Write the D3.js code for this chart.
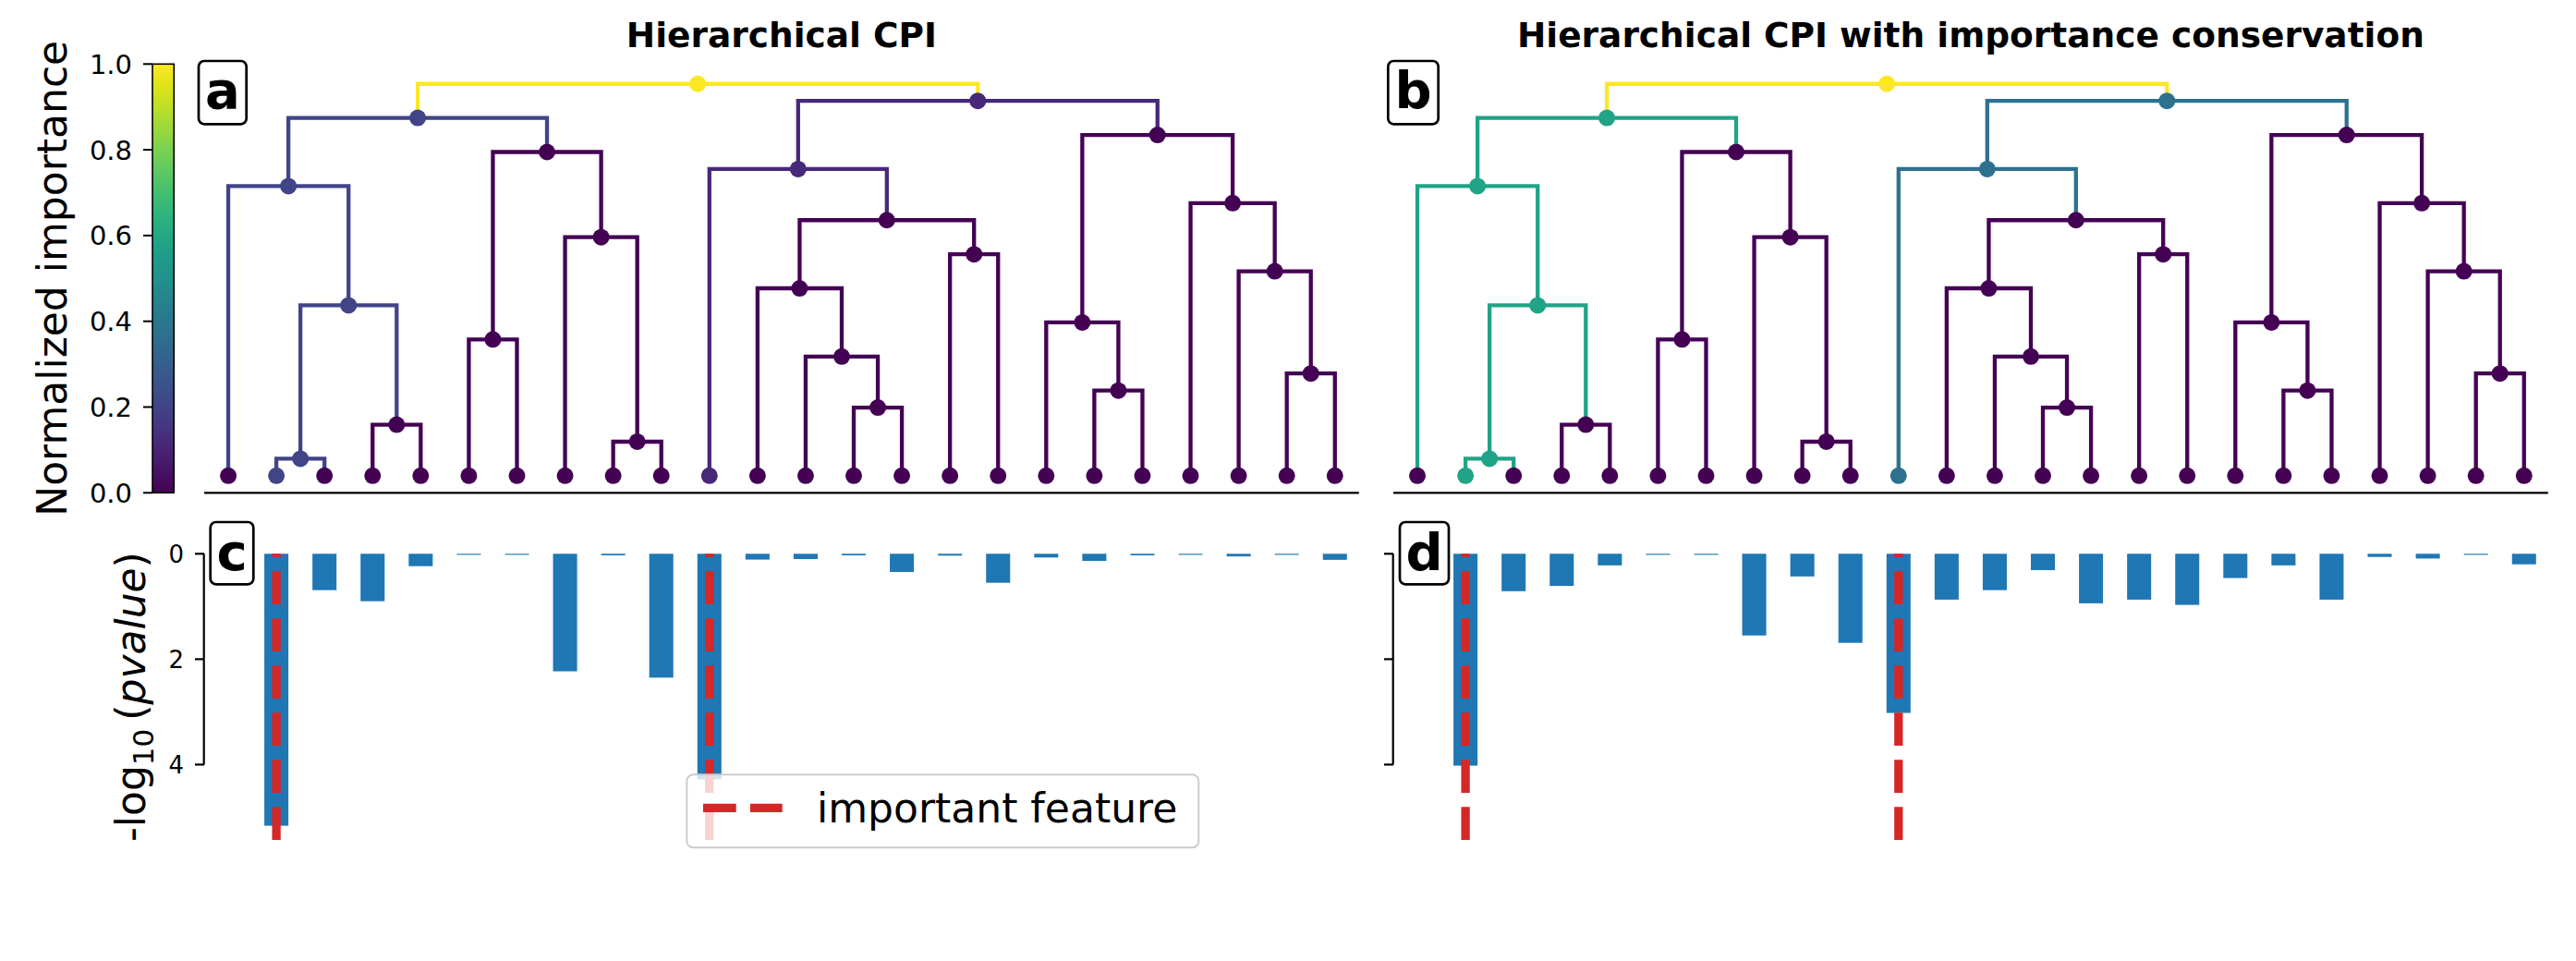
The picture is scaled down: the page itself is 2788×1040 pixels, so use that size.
<!DOCTYPE html>
<html>
<head>
<meta charset="utf-8">
<script src="https://cdn.jsdelivr.net/npm/d3@7"></script>
<style>
  html, body { margin: 0; padding: 0; background: #ffffff; }
  svg { display: block; }
  text { font-family: "DejaVu Sans", sans-serif; }
</style>
</head>
<body>
<script>
// ---------------- DATA ----------------
const featureIds = [0,1,2,3,4,5,6,7,8,9,10,11,12,13,14,15,16,17,18,19,20,21,22,23];
const leafHeight = 0.04;
// hierarchical merges (scipy-like): node 24+k joins mergeLeft[k] and mergeRight[k] at mergeHeight[k]
const mergeLeft   = [1, 8, 3, 13, 18, 22, 12, 5, 17, 24, 11, 21, 15, 7, 34, 20, 0, 10, 31, 32, 40, 41, 44];
const mergeRight  = [2, 9, 4, 14, 19, 23, 27, 6, 28, 26, 30, 29, 16, 25, 36, 35, 33, 38, 37, 39, 42, 43, 45];
const mergeHeight = [0.08, 0.12, 0.16, 0.20, 0.24, 0.28, 0.32, 0.36, 0.40, 0.44, 0.48, 0.52,
                     0.56, 0.60, 0.64, 0.68, 0.72, 0.76, 0.80, 0.84, 0.88, 0.92, 0.96];

// normalized importance (panel a: hierarchical CPI)
const leafImportanceA = [0, 0.2, 0, 0, 0, 0, 0, 0, 0, 0, 0.11, 0, 0, 0, 0, 0, 0, 0, 0, 0, 0, 0, 0, 0];
const nodeImportanceA = [0.2, 0, 0, 0, 0, 0, 0, 0, 0, 0.2, 0, 0, 0, 0, 0, 0, 0.2, 0.11, 0, 0, 0.2, 0.11, 1.0];
// normalized importance (panel b: with importance conservation)
const leafImportanceB = [0, 0.58, 0, 0, 0, 0, 0, 0, 0, 0, 0.37, 0, 0, 0, 0, 0, 0, 0, 0, 0, 0, 0, 0, 0];
const nodeImportanceB = [0.58, 0, 0, 0, 0, 0, 0, 0, 0, 0.58, 0, 0, 0, 0, 0, 0, 0.58, 0.37, 0, 0, 0.58, 0.37, 1.0];

// -log10(pvalue) per feature
const pvalC = [0.10, 5.16, 0.69, 0.90, 0.235, 0.02, 0.02, 2.23, 0.03, 2.35, 4.28, 0.11,
               0.10, 0.03, 0.345, 0.035, 0.55, 0.07, 0.135, 0.03, 0.02, 0.05, 0.02, 0.115];
const pvalD = [0.10, 4.02, 0.71, 0.61, 0.22, 0.02, 0.02, 1.55, 0.43, 1.69, 3.02, 0.87,
               0.69, 0.31, 0.94, 0.87, 0.97, 0.46, 0.22, 0.87, 0.06, 0.09, 0.02, 0.20];
const importantFeatures = [1, 10];

const cbarTicks = [0.0, 0.2, 0.4, 0.6, 0.8, 1.0];
const barTicks = [0, 2, 4];
const barTickLabels = ["0", "2", "4"];
const titles = ["Hierarchical CPI", "Hierarchical CPI with importance conservation"];
const panelLetters = ["a", "b", "c", "d"];
const legendLabel = "important feature";
const cbarLabel = "Normalized importance";

// ---------------- LAYOUT ----------------
const W = 2788, H = 1040;
const svg = d3.select("body").append("svg").attr("width", W).attr("height", H);
const color = d3.scaleSequential(d3.interpolateViridis).domain([0, 1]);

const panels = [
  { x0: 221, x1: 1470.8, leafImp: leafImportanceA, nodeImp: nodeImportanceA, pv: pvalC,
    title: titles[0], top: panelLetters[0], bottom: panelLetters[2], tickLabels: true,
    topBox: [215, 266.7], botBox: [227.7, 274.3] },
  { x0: 1508, x1: 2757.8, leafImp: leafImportanceB, nodeImp: nodeImportanceB, pv: pvalD,
    title: titles[1], top: panelLetters[1], bottom: panelLetters[3], tickLabels: false,
    topBox: [1502.3, 1556.7], botBox: [1515, 1568] }
];

const dendY = d3.scaleLinear().domain([0, 1]).range([533.3, 72.3]);
const barY = d3.scaleLinear().domain([0, 5.43]).range([599.3, 909]);

function labelBox(g, cx0, cx1, y0, y1, baseline, letter) {
  g.append("rect").attr("x", cx0).attr("y", y0).attr("width", cx1 - cx0).attr("height", y1 - y0)
    .attr("rx", 6).attr("ry", 6).attr("fill", "#fff").attr("stroke", "#000").attr("stroke-width", 2.7);
  g.append("text").attr("x", (cx0 + cx1) / 2).attr("y", baseline).attr("text-anchor", "middle")
    .attr("font-size", 56).attr("font-weight", "bold").attr("fill", "#000").text(letter);
}

panels.forEach((p, pi) => {
  const x = d3.scaleLinear().domain([-0.5, featureIds.length - 0.5]).range([p.x0, p.x1]);
  const step = x(1) - x(0);
  const g = svg.append("g");

  // ---- dendrogram ----
  const nx = [], nh = [], imp = [];
  featureIds.forEach((f, i) => { nx[i] = x(f); nh[i] = leafHeight; imp[i] = p.leafImp[i]; });
  mergeLeft.forEach((l, k) => {
    const id = featureIds.length + k, r = mergeRight[k];
    nx[id] = (nx[l] + nx[r]) / 2; nh[id] = mergeHeight[k]; imp[id] = p.nodeImp[k];
  });

  // bottom spine
  g.append("line").attr("x1", p.x0).attr("x2", p.x1).attr("y1", dendY(0)).attr("y2", dendY(0))
    .attr("stroke", "#000").attr("stroke-width", 2.2);

  const links = mergeLeft.map((l, k) => ({ l, r: mergeRight[k], id: featureIds.length + k }));
  g.selectAll("path.link").data(links).join("path").attr("class", "link")
    .attr("d", d => `M${nx[d.l]},${dendY(nh[d.l])}V${dendY(nh[d.id])}H${nx[d.r]}V${dendY(nh[d.r])}`)
    .attr("fill", "none").attr("stroke", d => color(imp[d.id])).attr("stroke-width", 4.3)
    .attr("stroke-linejoin", "miter");

  g.selectAll("circle.node").data(d3.range(nx.length)).join("circle").attr("class", "node")
    .attr("cx", i => nx[i]).attr("cy", i => dendY(nh[i])).attr("r", 9)
    .attr("fill", i => color(imp[i]));

  // title
  g.append("text").attr("x", (p.x0 + p.x1) / 2).attr("y", 51).attr("text-anchor", "middle")
    .attr("font-size", 37.5).attr("font-weight", "bold").attr("fill", "#000").text(p.title);

  // ---- bars ----
  const bw = step * 0.5;
  g.selectAll("rect.bar").data(p.pv).join("rect").attr("class", "bar")
    .attr("x", (v, i) => x(featureIds[i]) - bw / 2).attr("y", barY(0))
    .attr("width", bw).attr("height", v => barY(v) - barY(0)).attr("fill", "#1f77b4");

  // red dashed important-feature lines (drawn from bottom upward)
  g.selectAll("path.imp").data(importantFeatures).join("path").attr("class", "imp")
    .attr("d", f => `M${x(f)},${barY.range()[1]}V${barY(0)}`)
    .attr("stroke", "#d62728").attr("stroke-width", 9.3).attr("stroke-dasharray", "35.7,15.3")
    .attr("fill", "none");

  // y axis (trimmed spine)
  const ax = g.append("g");
  ax.append("line").attr("x1", p.x0 - 0.3).attr("x2", p.x0 - 0.3)
    .attr("y1", barY(barTicks[0])).attr("y2", barY(barTicks[barTicks.length - 1]))
    .attr("stroke", "#000").attr("stroke-width", 2.2);
  barTicks.forEach((t, i) => {
    ax.append("line").attr("x1", p.x0 - 10).attr("x2", p.x0).attr("y1", barY(t)).attr("y2", barY(t))
      .attr("stroke", "#000").attr("stroke-width", 2.2);
    if (p.tickLabels) {
      ax.append("text").attr("x", p.x0 - 22).attr("y", barY(t)).attr("dy", "0.36em")
        .attr("text-anchor", "end").attr("font-size", 26).attr("fill", "#000").text(barTickLabels[i]);
    }
  });

  // legend (only in panel c)
  if (pi === 0) {
    const lg = g.append("g");
    lg.append("rect").attr("x", 743.3).attr("y", 838.3).attr("width", 554).attr("height", 79)
      .attr("rx", 7).attr("fill", "#fff").attr("fill-opacity", 0.8)
      .attr("stroke", "#cccccc").attr("stroke-width", 2);
    lg.append("line").attr("x1", 761).attr("x2", 846.7).attr("y1", 874.3).attr("y2", 874.3)
      .attr("stroke", "#d62728").attr("stroke-width", 9.3).attr("stroke-dasharray", "35.7,15.3");
    lg.append("text").attr("x", 884).attr("y", 890).attr("font-size", 44).attr("fill", "#000")
      .text(legendLabel);
  }

  // panel labels
  labelBox(g, p.topBox[0], p.topBox[1], 66, 134.3, 116.7, p.top);
  labelBox(g, p.botBox[0], p.botBox[1], 565, 632.3, 616.7, p.bottom);
});

// ---------------- COLORBAR ----------------
const cb = svg.append("g");
const cbY = d3.scaleLinear().domain([0, 1]).range([533.3, 69.3]);
const defs = svg.append("defs");
const grad = defs.append("linearGradient").attr("id", "viridisGrad")
  .attr("x1", 0).attr("y1", 1).attr("x2", 0).attr("y2", 0);
d3.range(0, 1.0001, 0.05).forEach(t => {
  grad.append("stop").attr("offset", t).attr("stop-color", color(t));
});
cb.append("rect").attr("x", 165).attr("y", cbY(1)).attr("width", 23.3).attr("height", cbY(0) - cbY(1))
  .attr("fill", "url(#viridisGrad)").attr("stroke", "#000").attr("stroke-width", 1.6);
cbarTicks.forEach(t => {
  cb.append("line").attr("x1", 155).attr("x2", 165).attr("y1", cbY(t)).attr("y2", cbY(t))
    .attr("stroke", "#000").attr("stroke-width", 2);
  cb.append("text").attr("x", 143).attr("y", cbY(t)).attr("dy", "0.36em").attr("text-anchor", "end")
    .attr("font-size", 29).attr("fill", "#000").text(d3.format(".1f")(t));
});
cb.append("text").attr("transform", `translate(71.7,${(cbY(0) + cbY(1)) / 2}) rotate(-90)`)
  .attr("text-anchor", "middle").attr("font-size", 44).attr("fill", "#000").text(cbarLabel);

// y label of bar panels: -log10(pvalue)
const yl = svg.append("text")
  .attr("transform", `translate(156.7,${(barY.range()[0] + barY.range()[1]) / 2}) rotate(-90)`)
  .attr("text-anchor", "middle").attr("font-size", 44).attr("fill", "#000");
yl.append("tspan").text("-log");
yl.append("tspan").attr("font-size", 31).attr("dy", 9).text("10");
yl.append("tspan").attr("dy", -9).attr("dx", 9).text("(");
yl.append("tspan").attr("font-style", "italic").text("pvalue");
yl.append("tspan").text(")");
</script>
</body>
</html>
